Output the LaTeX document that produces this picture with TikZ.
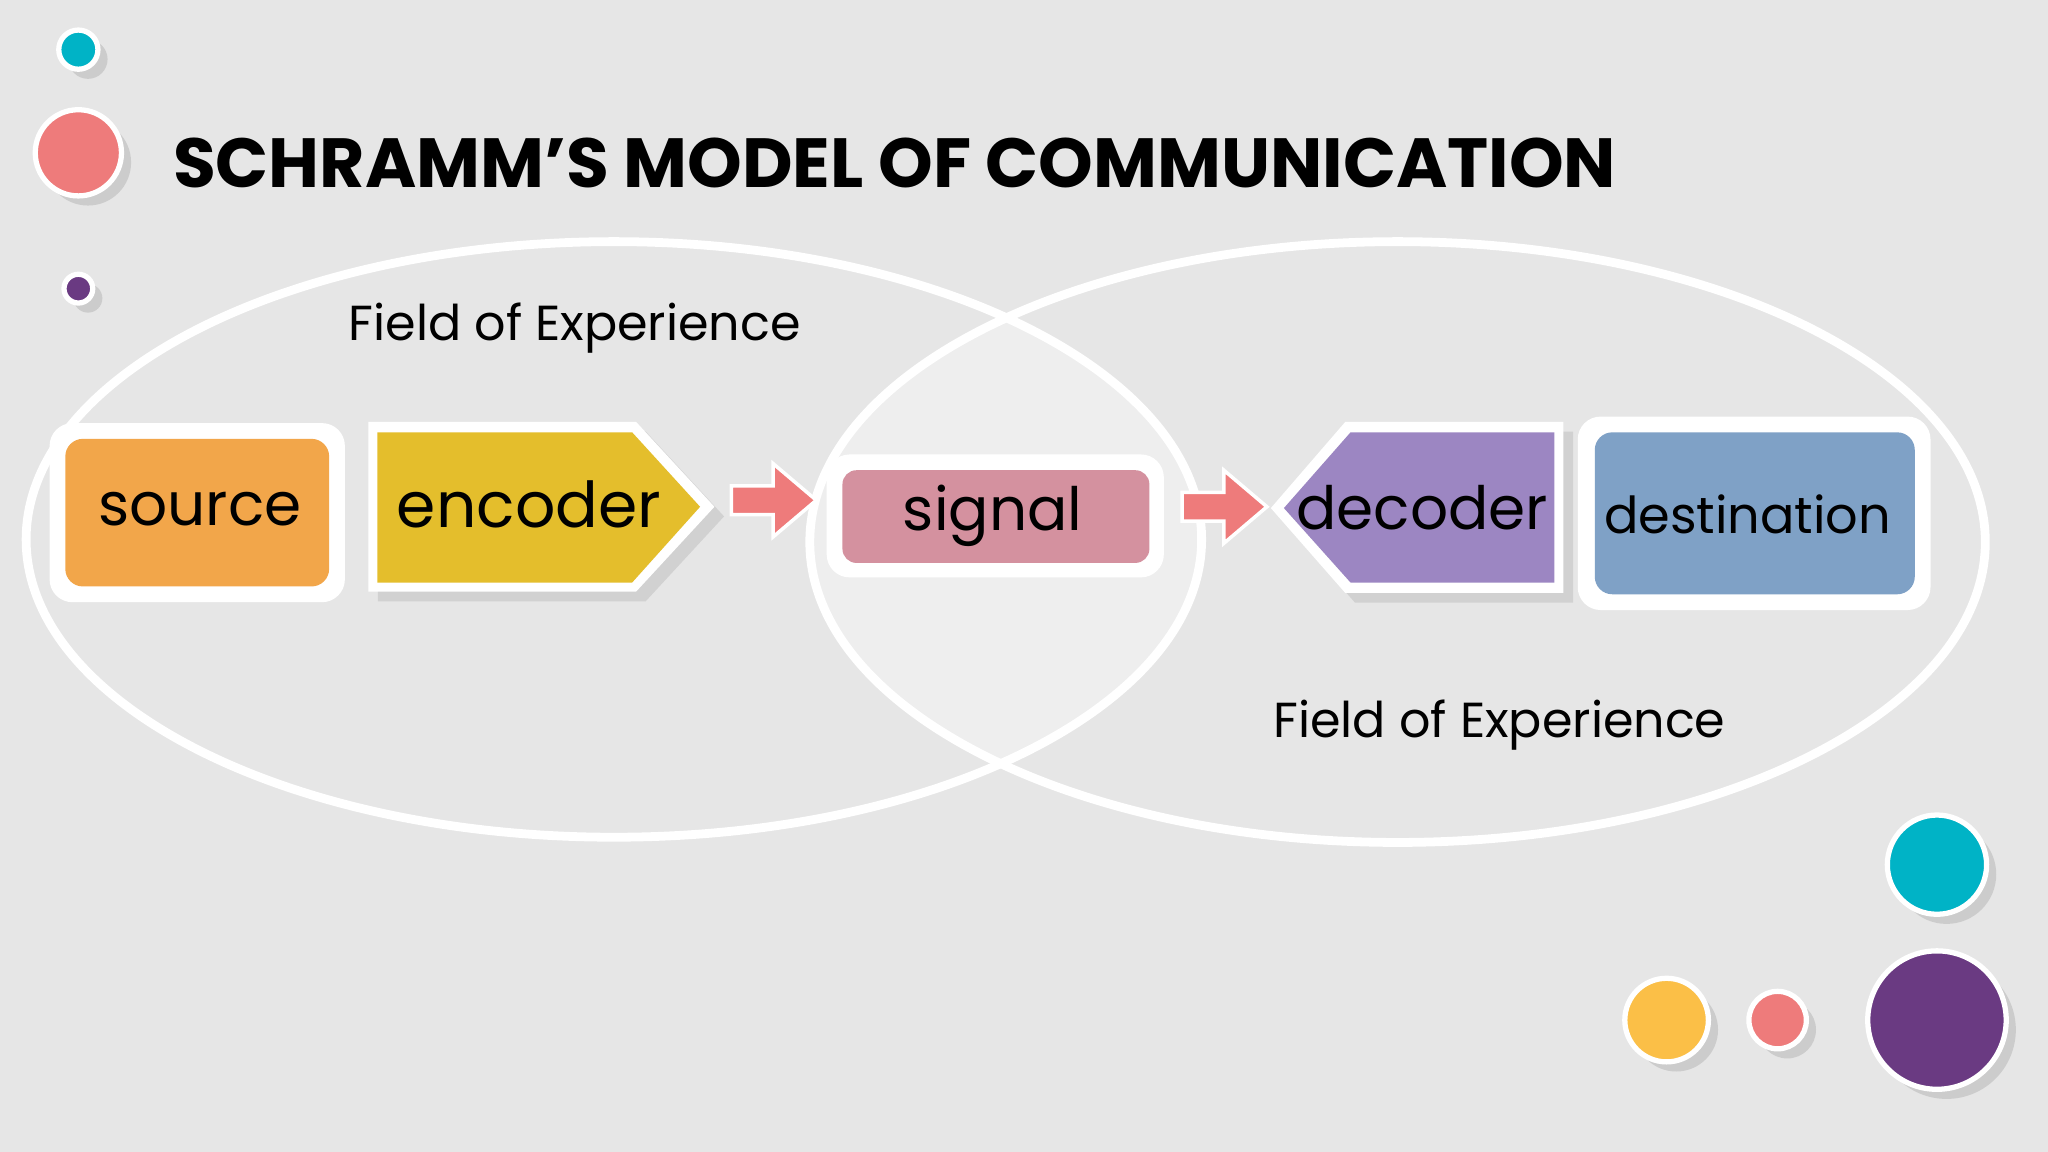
\documentclass[tikz,border=0pt]{standalone}
\usepackage{fontspec}
\setmainfont{Poppins}
\usetikzlibrary{shadows}
\definecolor{bg}{HTML}{E6E6E6}
\definecolor{teal}{HTML}{00B3C6}
\definecolor{salmon}{HTML}{EE7B7B}
\definecolor{purp}{HTML}{6A3A82}
\definecolor{yel}{HTML}{FBBF47}
\definecolor{org}{HTML}{F2A64A}
\definecolor{enc}{HTML}{E4BE2C}
\definecolor{sig}{HTML}{D4919F}
\definecolor{dec}{HTML}{9C86C2}
\definecolor{dst}{HTML}{7FA1C6}
\tikzset{
 dot/.style={draw=white,line width=1.5pt,drop shadow={opacity=0.25}},
 box/.style={draw=white,line width=3pt,rounded corners=5pt,drop shadow={opacity=0.2,shadow xshift=1pt,shadow yshift=-1pt}},
 lbl/.style={font=\fontsize{17}{20}\selectfont},
 field/.style={font=\fontsize{14}{16}\selectfont},
 fel/.style={draw=white,line width=2.5pt},
 sarrow/.style={fill=salmon,draw=white,line width=1pt}
}
\begin{document}
\begin{tikzpicture}[x=0.01306cm,y=-0.01306cm]
\fill[bg] (0,0) rectangle (1568,882);
\useasboundingbox (0,0) rectangle (1568,882);
% ellipses
\begin{scope}
\clip (470,413) ellipse [x radius=450,y radius=228];
\fill[white,opacity=0.35] (1070,415) ellipse [x radius=450,y radius=230];
\end{scope}
\draw[fel] (470,413) ellipse [x radius=450,y radius=228];
\draw[fel] (1070,415) ellipse [x radius=450,y radius=230];
% dots
\fill[teal,dot] (60,38) circle [radius=15];
\fill[salmon,dot] (60,117) circle [radius=33];
\fill[purp,dot] (60,221) circle [radius=11];
\fill[teal,dot] (1483,662) circle [radius=38];
\fill[purp,dot] (1483,781) circle [radius=53];
\fill[yel,dot] (1276,781) circle [radius=32];
\fill[salmon,dot] (1361,781) circle [radius=22];
% title
\node[font=\fontsize{19.8}{22}\selectfont\bfseries] (title) at (685,125) {SCHRAMM’S MODEL OF COMMUNICATION};
\node[field] (f1) at (440,251) {Field of Experience};
\node[field] (f2) at (1148,555) {Field of Experience};
% source
\fill[white,box] (42,328) rectangle (260,457);
\fill[org,rounded corners=5pt] (50,336) rectangle (252,449);
\node[lbl] (src) at (153,390) {source};
% encoder
\fill[white,drop shadow={opacity=0.2}] (282,323) -- (487,323) -- (547,388) -- (487,453) -- (282,453) -- cycle;
\fill[enc] (289,331) -- (484,331) -- (536,388) -- (484,446) -- (289,446) -- cycle;
\node[lbl,font=\fontsize{18}{20}\selectfont] (enc) at (405,386) {encoder};
% arrow 1
\draw[sarrow] (560,372) -- (592,372) -- (592,355) -- (625,383) -- (592,411) -- (592,394) -- (560,394) -- cycle;
% signal
\fill[white,box] (637,352) rectangle (887,438);
\fill[sig,rounded corners=4pt] (645,360) rectangle (880,431);
\node[lbl] (sig) at (760,395) {signal};
% arrow 2
\draw[sarrow] (905,377) -- (937,377) -- (937,360) -- (970,388) -- (937,416) -- (937,399) -- (905,399) -- cycle;
% decoder
\fill[white,drop shadow={opacity=0.2}] (973,389) -- (1030,323) -- (1197,323) -- (1197,454) -- (1030,454) -- cycle;
\fill[dec] (983,389) -- (1034,331) -- (1190,331) -- (1190,446) -- (1034,446) -- cycle;
\node[lbl] (dec) at (1089,389) {decoder};
% destination
\fill[white,box] (1212,323) rectangle (1474,463);
\fill[dst,rounded corners=5pt] (1221,331) rectangle (1466,455);
\node[font=\fontsize{14.5}{17}\selectfont] (dst) at (1338,394) {destination};
\end{tikzpicture}
\end{document}
